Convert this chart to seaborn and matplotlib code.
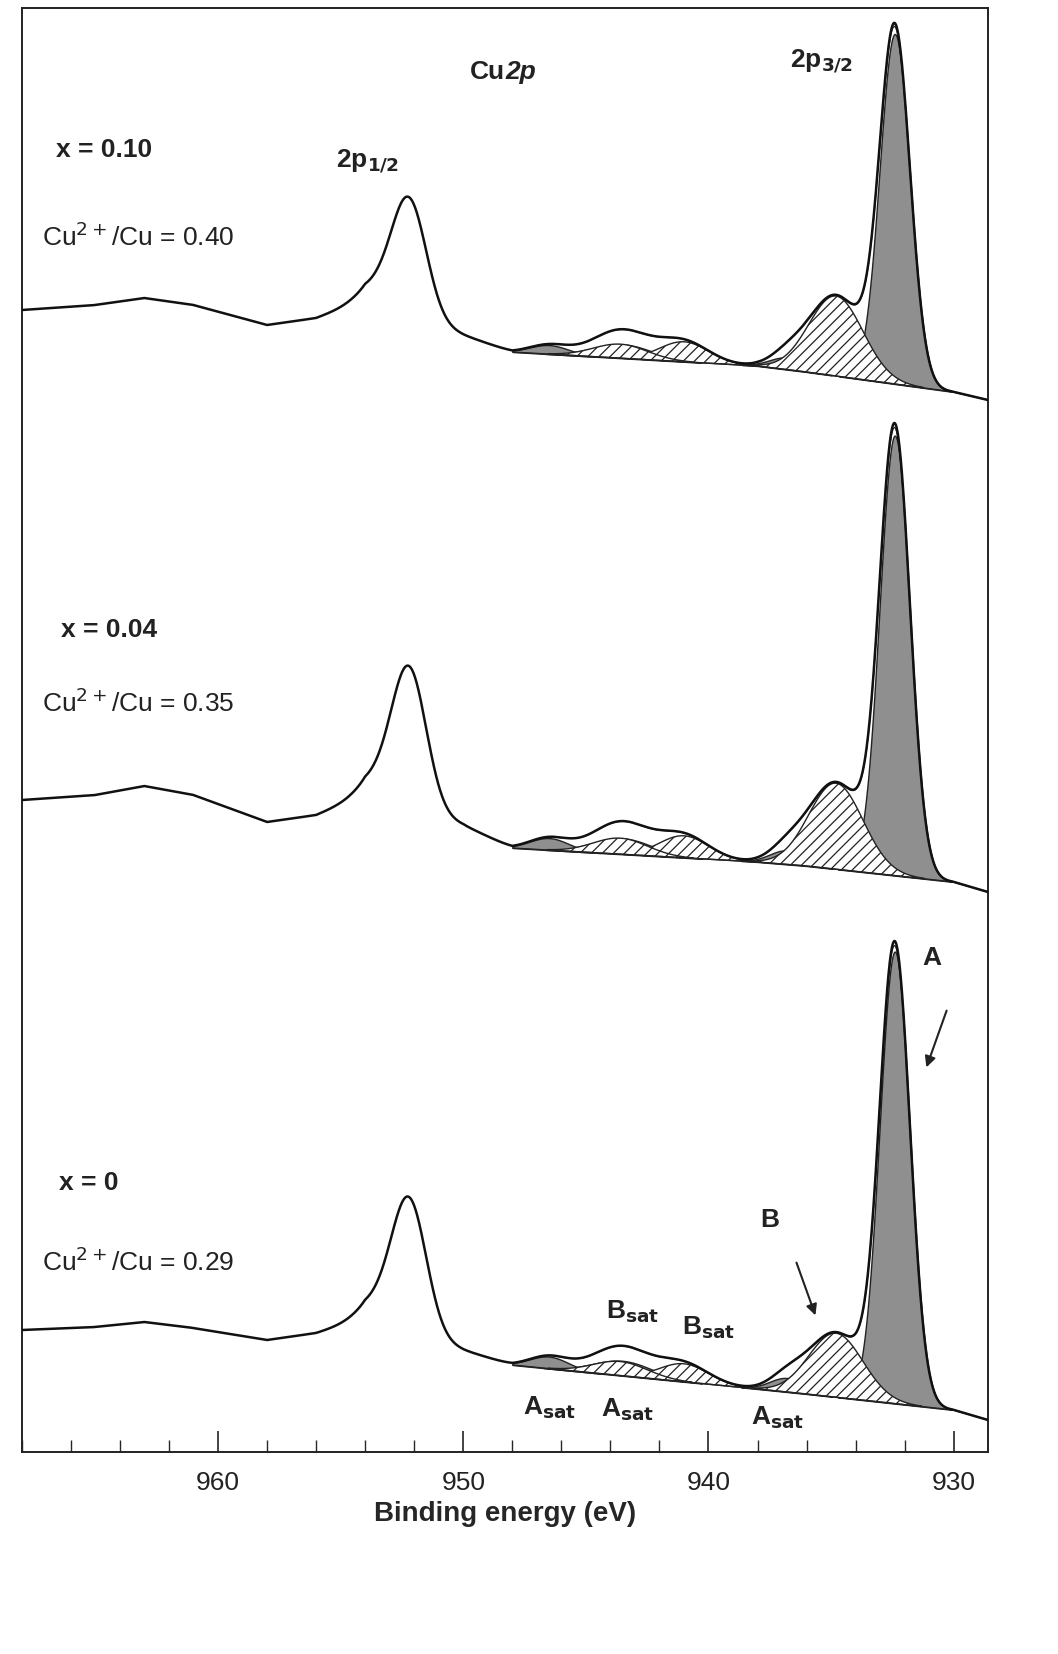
import numpy as np
import matplotlib.pyplot as plt
import seaborn as sns
from matplotlib.ticker import MultipleLocator

sns.set_style("ticks")
plt.rcParams["font.family"] = ["Liberation Sans", "DejaVu Sans"]
plt.rcParams["hatch.linewidth"] = 0.9

# Intensities are read in picture units (down = lower intensity), energies in eV
spectra = ["x = 0.10", "x = 0.04", "x = 0"]
ratios = ["0.40", "0.35", "0.29"]

# background anchors (energy, level) per spectrum
bg_e = [968, 965, 963, 961, 958, 956, 954, 950, 948, 938, 936, 930, 928.6]
bg_lv = {
    "x = 0.10": [310, 305, 298, 305, 325, 318, 300, 335, 352, 366, 372, 392, 400],
    "x = 0.04": [800, 795, 786, 795, 822, 815, 795, 825, 848, 862, 866, 882, 892],
    "x = 0": [1330, 1327, 1322, 1328, 1340, 1333, 1318, 1350, 1365, 1389, 1394, 1410, 1420],
}

# 2p1/2 peak (not decomposed): centres, widths, heights
p12_c = [952.2, 953.4]
p12_w = [0.7, 0.8]
p12_h = {"x = 0.10": [112, 16], "x = 0.04": [135, 18], "x = 0": [128, 18]}

# fitted 2p3/2 components: centre, width, kind (A = gray, B = hatched)
comp_c = [932.4, 934.8, 936.8, 941.0, 943.6, 943.5, 946.5]
comp_w = [0.62, 1.1, 0.7, 1.0, 1.1, 1.2, 0.8]
comp_k = ["A", "B", "A", "B", "B", "A", "A"]
comp_h = {
    "x = 0.10": [350, 80, 12, 20, 14, 14, 9],
    "x = 0.04": [440, 86, 14, 22, 16, 16, 12],
    "x = 0": [452, 64, 14, 18, 14, 15, 12],
}

fig, ax = plt.subplots(figsize=(10.58, 16.54), dpi=100)
fig.subplots_adjust(left=22 / 1058, right=988 / 1058, top=1 - 8 / 1654, bottom=1 - 1452 / 1654)

e = np.linspace(928.6, 968, 3000)
xp = bg_e[::-1]


def gauss(c, w, h):
    return h * np.exp(-0.5 * ((e - c) / w) ** 2)


for s in spectra:
    bg = np.interp(e, xp, bg_lv[s][::-1])
    total = np.zeros_like(e)
    for c, w, h in zip(p12_c, p12_w, p12_h[s]):
        total += gauss(c, w, h)
    fit = np.zeros_like(e)
    for c, w, k, h in zip(comp_c, comp_w, comp_k, comp_h[s]):
        g = gauss(c, w, h)
        m = (g > 0.4) & (e < 948)
        fit += g
        if k == "A":
            ax.fill_between(e[m], bg[m], bg[m] - g[m], facecolor="#8f8f8f", edgecolor="#222222", lw=1, zorder=1)
        else:
            ax.fill_between(e[m], bg[m], bg[m] - g[m], facecolor="white", edgecolor="#222222", hatch="///", lw=1, zorder=2)
    total += fit
    m = e < 948
    ax.plot(e[m], bg[m], color="#222222", lw=1, zorder=3)
    ax.plot(e[m], bg[m] - fit[m], color="#222222", lw=0.9, zorder=3)
    sns.lineplot(x=e, y=bg - total * 1.01, ax=ax, color="#111111", lw=1.8, zorder=4, sort=False)

ax.set_xlim(968, 928.6)
ax.set_ylim(1452, 8)
ax.set_yticks([])
ax.xaxis.set_major_locator(MultipleLocator(10))
ax.xaxis.set_minor_locator(MultipleLocator(2))
ax.tick_params(axis="x", which="major", direction="in", length=15, width=1.2, labelsize=19, pad=14, colors="#222222")
ax.tick_params(axis="x", which="minor", direction="in", length=9, width=1.0)
for sp in ax.spines.values():
    sp.set_linewidth(1.4)
    sp.set_color("#222222")
ax.set_xlabel("Binding energy (eV)", fontsize=20, fontweight="bold", labelpad=4)

tk = dict(color="#222222", fontsize=19)
bk = dict(color="#222222", fontsize=19, fontweight="bold")
ax.text(948.3, 72, "Cu", ha="right", va="center", **bk)
ax.text(948.3, 72, "2p", ha="left", va="center", style="italic", **bk)
ax.text(953.9, 162, r"2p$_{\mathbf{1/2}}$", ha="center", va="center", **bk)
ax.text(935.4, 62, r"2p$_{\mathbf{3/2}}$", ha="center", va="center", **bk)

lab_y = [150, 630, 1183]
rat_y = [237, 703, 1262]
lab_x = [966.6, 966.4, 966.5]
for s, r, ly, ry, lx in zip(spectra, ratios, lab_y, rat_y, lab_x):
    ax.text(lx, ly, s, ha="left", va="center", **bk)
    ax.text(967.2, ry, r"Cu$^{\mathrm{2+}}$/Cu = " + r, ha="left", va="center", **tk)

ax.text(930.9, 958, "A", ha="center", va="center", **bk)
ax.annotate("", xy=(931.15, 1070), xytext=(930.25, 1008),
            arrowprops=dict(arrowstyle="-|>", color="#222222", lw=1.5, mutation_scale=16))
ax.text(937.5, 1220, "B", ha="center", va="center", **bk)
ax.annotate("", xy=(935.6, 1318), xytext=(936.45, 1260),
            arrowprops=dict(arrowstyle="-|>", color="#222222", lw=1.5, mutation_scale=16))

for x, y in [(943.1, 1312), (940.0, 1328)]:
    ax.text(x, y, r"B$_{\mathbf{sat}}$", ha="center", va="center", **bk)
for x, y in [(946.5, 1408), (943.3, 1410), (937.2, 1418)]:
    ax.text(x, y, r"A$_{\mathbf{sat}}$", ha="center", va="center", **bk)

fig.savefig("out.png", dpi=100)
